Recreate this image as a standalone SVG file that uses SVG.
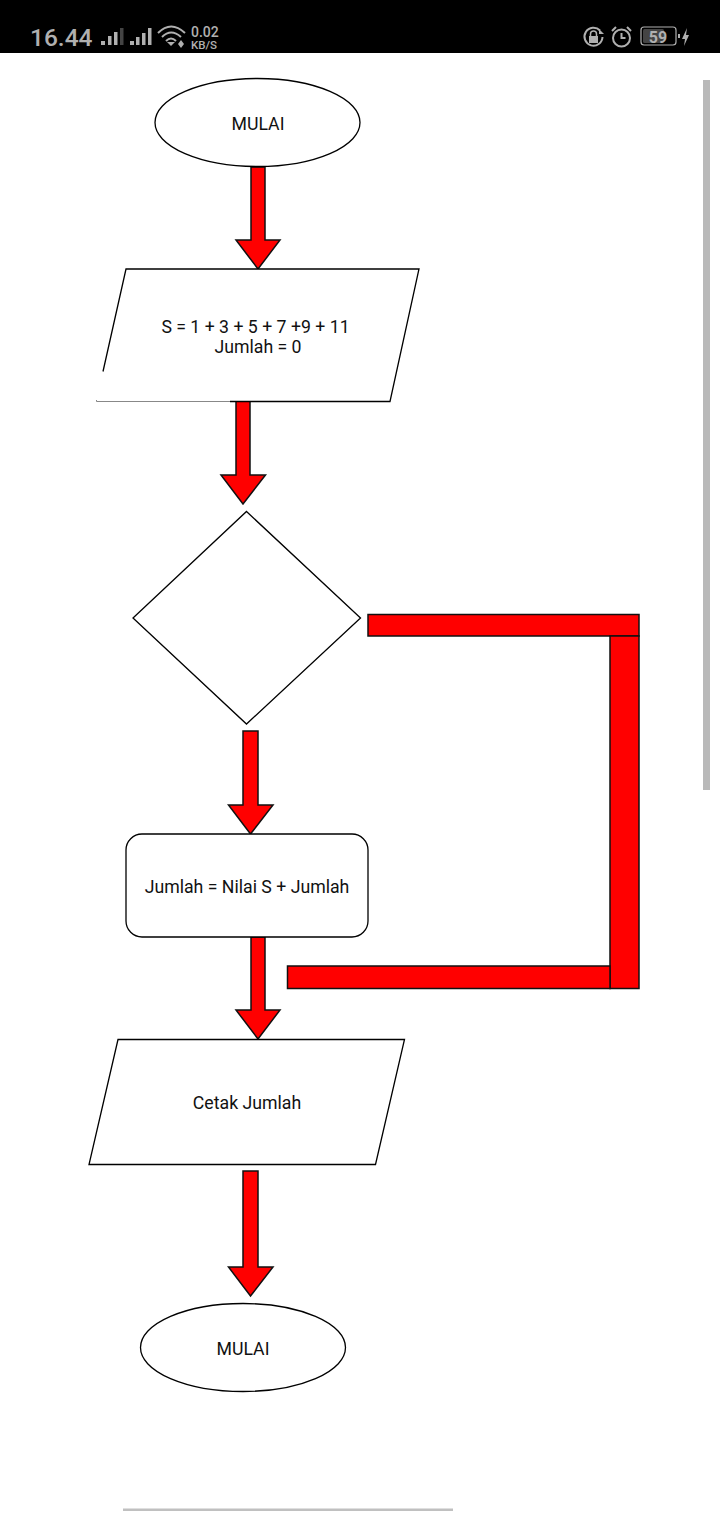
<svg xmlns="http://www.w3.org/2000/svg" width="720" height="1520" viewBox="0 0 720 1520">
<style>
.s{fill:#fff;stroke:#000;stroke-width:1.3}
.r{fill:#f00;stroke:#111;stroke-width:1.5}
.t{font-family:Roboto,"Liberation Sans",sans-serif;font-size:17.7px;fill:#111;text-anchor:middle}
.b{font-family:Roboto,"Liberation Sans",sans-serif;fill:#b0b0b0}
.i{fill:none;stroke:#b0b0b0;stroke-width:2}
</style>
<rect width="720" height="1520" fill="#fff"/>
<g id="statusbar">
<rect width="720" height="53" fill="#000"/>
<text class="b" x="30" y="46" font-size="24.5" font-weight="500">16.44</text>
<g fill="#b0b0b0">
<rect x="101" y="41" width="4" height="4"/><rect x="108" y="36" width="3.5" height="9"/><rect x="114" y="32" width="3.5" height="13"/><rect x="120" y="28" width="3.5" height="17" fill="#444"/>
<rect x="130" y="41" width="4" height="4"/><rect x="136" y="37" width="3.5" height="8"/><rect x="142" y="33" width="3.5" height="12"/><rect x="148" y="28" width="3.5" height="17"/>
</g>
<path class="i" d="M158 33Q171 20 185 33M162 37Q171 28 181 37M166 41Q171 36 176 41" stroke-width="2.400"/>
<path d="M171 46l-4-4h8zM181 40l-3 4h6zM181 48l-3-4h6z" fill="#b0b0b0"/>
<text class="b" x="191" y="37" font-size="14" font-weight="500">0.02</text>
<text class="b" x="191" y="48.500" font-size="11.500" font-weight="500">KB/S</text>
<path class="i" d="M600 30.500A9 9 0 1 0 602.500 37"/>
<path d="M599 29v5h5z" fill="#b0b0b0"/>
<rect x="589" y="36" width="9" height="7" fill="#b0b0b0"/>
<path d="M590.500 36v-2a3 3 0 0 1 6 0v2" fill="none" stroke="#b0b0b0" stroke-width="1.500"/>
<circle class="i" cx="621.500" cy="38" r="8.500"/>
<path class="i" d="M621.500 33v5h4M612 31l4-4M631 31l-4-4" stroke-width="1.600"/>
<rect x="641" y="27" width="35" height="18" rx="3" fill="none" stroke="#b0b0b0" stroke-width="1.200"/>
<rect x="643" y="29" width="21" height="14" rx="1.500" fill="#444"/>
<text class="b" x="658" y="43" font-size="16" font-weight="700" text-anchor="middle">59</text>
<rect x="678" y="34" width="2" height="4" fill="#b0b0b0"/>
<path d="M687 28l-5 11h3l-1 7 5-11h-3z" fill="#b0b0b0"/>
</g>
<rect id="scrollbar" x="703" y="80" width="7" height="710" fill="#b9b9b9"/>
<rect id="home-indicator" x="123" y="1508.500" width="330" height="2.500" fill="#c0c0c0"/>
<g id="connectors">
<path class="r" d="M251 167H265V240H280L258 269L236 240H251Z"/>
<path class="r" d="M236 401H250V475H265.500L243 504L221 475H236Z"/>
<path class="r" d="M243 731H258V805H273L250.500 834L228.500 805H243Z"/>
<path class="r" d="M251 937H265V1010H280L258 1039L236 1010H251Z"/>
<path class="r" d="M243 1171H258V1267H273L250.500 1296L228.500 1267H243Z"/>
<rect class="r" x="368" y="614.500" width="271" height="21.500"/>
<rect class="r" x="610" y="636" width="29" height="352.500"/>
<rect class="r" x="287.500" y="966" width="322.500" height="22.500"/>
</g>
<g id="start">
<ellipse class="s" cx="257.500" cy="122.500" rx="102.500" ry="44"/>
<text class="t" x="258" y="129.500">MULAI</text>
</g>
<g id="input">
<path d="M230 401.500H390L419 269H126L103 371.500" fill="#fff" stroke="#000" stroke-width="1.300"/>
<path d="M96.500 401.500H230M96.500 400v1.500" stroke="#888" stroke-width="1" fill="none"/>
<text class="t" x="255.500" y="333">S = 1 + 3 + 5 + 7 +9 + 11</text>
<text class="t" x="258" y="353">Jumlah = 0</text>
</g>
<g id="decision">
<path class="s" d="M246.500 511.500L360.500 618L246.500 724L133 618Z"/>
</g>
<g id="process">
<rect class="s" x="126" y="834" width="242" height="103" rx="16"/>
<text class="t" x="247" y="893">Jumlah = Nilai S + Jumlah</text>
</g>
<g id="output">
<path class="s" d="M118 1039.500H404.500L375.500 1164.500H89Z"/>
<text class="t" x="247" y="1109">Cetak Jumlah</text>
</g>
<g id="end">
<ellipse class="s" cx="243" cy="1347.500" rx="102.500" ry="44"/>
<text class="t" x="243" y="1354.500">MULAI</text>
</g>
</svg>
